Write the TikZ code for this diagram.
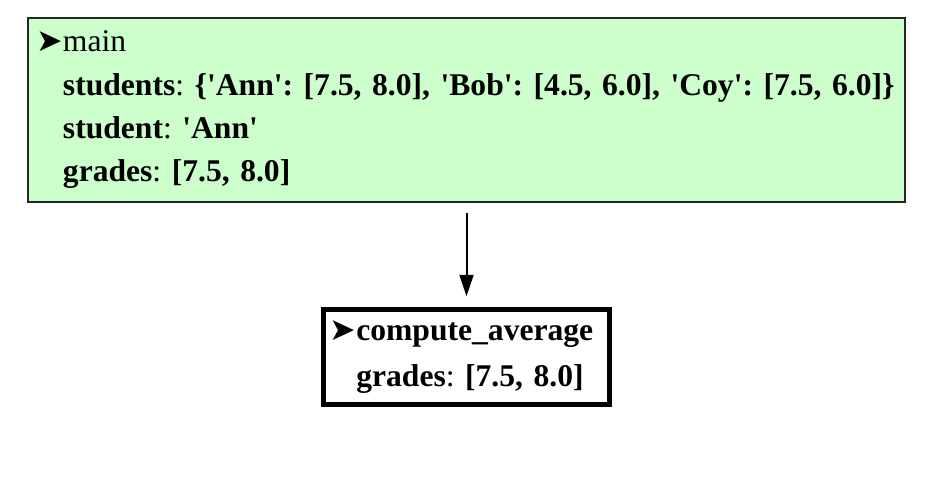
\documentclass[tikz,border=0pt]{standalone}
\usepackage{fontspec}
\setmainfont{Liberation Serif}[Ligatures=TeXOff]
\newfontfamily\symfont{DejaVu Sans}
\usetikzlibrary{arrows.meta, positioning}
\definecolor{framegreen}{HTML}{CCFFCC}
\newcommand{\ptr}{{\symfont\char"27A4}}
\newcommand{\indnt}{\phantom{\ptr}}
\frenchspacing

\begin{document}
\begin{tikzpicture}[x=0.75pt, y=-0.75pt, node distance=185pt, auto]
\tikzstyle{frame} = [rectangle, draw=black!85, line width=1.1pt, fill=framegreen, align=left, text width=645pt, inner xsep=6.5pt, minimum height=138pt, font=\fontsize{23.7}{32.5}\selectfont]
\tikzstyle{call} = [rectangle, draw=black, line width=3.75pt, fill=white, align=left, text width=205pt, inner xsep=5pt, minimum height=71pt, font=\fontsize{23.7}{34.5}\selectfont]
\tikzstyle{line} = [draw, -{Triangle[length=16pt, width=10.5pt]}, line width=1.5pt, shorten <=7.5pt, shorten >=8pt]

\useasboundingbox (0,0) rectangle (933,476);

\node [frame] (main) at (466.5,110) {\ptr main\\
\indnt\textbf{students}: \textbf{\{'Ann': [7.5, 8.0], 'Bob': [4.5, 6.0], 'Coy': [7.5, 6.0]\}}\\
\indnt\textbf{student}: \textbf{'Ann'}\\
\indnt\textbf{grades}: \textbf{[7.5, 8.0]}};
\node [call, below of=main] (compute) {\ptr\textbf{compute\_average}\\
\indnt\textbf{grades}: \textbf{[7.5, 8.0]}};

\path [line] (main) -- (compute);
\end{tikzpicture}
\end{document}
